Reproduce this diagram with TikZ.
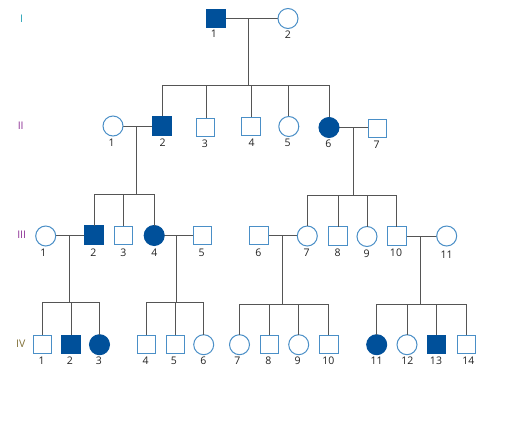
\documentclass[tikz,border=0pt]{standalone}
\usepackage{fontspec}
\setmainfont{Open Sans}
\definecolor{outl}{HTML}{4A8FC7}
\definecolor{affc}{HTML}{00509A}
\definecolor{labc}{HTML}{222222}
\definecolor{linec}{HTML}{555555}
\definecolor{gIc}{HTML}{1FA0B5}
\definecolor{gIIc}{HTML}{8E3196}
\definecolor{gIVc}{HTML}{7F6E35}
\begin{document}
\begin{tikzpicture}[x=1pt,y=-1pt,
  every node/.style={inner sep=0pt,outer sep=0pt},
  male/.style={rectangle,draw=outl,line width=1pt,fill=white,minimum size=18.5pt},
  female/.style={circle,draw=outl,line width=1pt,fill=white,minimum size=20pt},
  aff/.style={fill=affc,draw=affc},
  lab/.style={text=labc,font=\fontsize{10.5}{12}\selectfont,anchor=center},
  gen/.style={font=\fontsize{10.5}{12}\selectfont,anchor=center},
  link/.style={draw=linec,line width=1pt}]
\useasboundingbox (0,0) rectangle (523,421);
\fill[white] (0,0) rectangle (523,421);

% generation labels
\node[gen,text=gIc] (gI) at (21.7,18.5) {I};
\node[gen,text=gIIc] (gII) at (20.7,126) {II};
\node[gen,text=gIIc] (gIII) at (21.7,235) {III};
\node[gen,text=gIVc] (gIV) at (20.7,344) {IV};

% coordinates for marriages and sibships
\coordinate (mI) at (248.3,18.5);
\coordinate (sI) at (248.3,85.7);
\coordinate (mIIa) at (136,126);
\coordinate (sIIa) at (136,194);
\coordinate (mIIb) at (353.3,127.5);
\coordinate (sIIb) at (353.3,195.7);
\coordinate (mIIIa) at (69.3,235);
\coordinate (sIIIa) at (69.3,302.7);
\coordinate (mIIIb) at (176.7,235.5);
\coordinate (sIIIb) at (176.7,302.7);
\coordinate (mIIIc) at (282.7,235.5);
\coordinate (sIIIc) at (282.7,304);
\coordinate (mIIId) at (420.7,236);
\coordinate (sIIId) at (420.7,304);

% lines (drawn first, under nodes)
\begin{scope}[link]
\draw (216,18.5) -- (288,18.5);
\draw (mI) -- (sI);
\draw (162,126) |- (sI);
\draw (206,127.5) |- (sI);
\draw (251,126.5) |- (sI);
\draw (288.8,126.5) |- (sI);
\draw (329,127.5) |- (sI);
\draw (113,126) -- (162,126);
\draw (mIIa) -- (sIIa);
\draw (329,127.5) -- (377.7,127.5);
\draw (mIIb) -- (sIIb);
\draw (45.7,235) -- (94,235);
\draw (154.2,235.5) -- (202.5,235.5);
\draw (259,235.5) -- (307.3,235.5);
\draw (396.8,236) -- (446.7,236);
\draw (mIIIa) -- (sIIIa);
\draw (mIIIb) -- (sIIIb);
\draw (mIIIc) -- (sIIIc);
\draw (mIIId) -- (sIIId);
\end{scope}

% Generation I
\node[male,aff] (I1) at (216,18.5) {};
\node[female] (I2) at (288,18.5) {};
% Generation II
\node[female] (II1) at (113,126) {};
\node[male,aff] (II2) at (162,126) {};
\node[male] (II3) at (205.7,127.5) {};
\node[male] (II4) at (251,126.5) {};
\node[female] (II5) at (288.8,126.5) {};
\node[female,aff] (II6) at (329,127.5) {};
\node[male] (II7) at (377.7,128.5) {};
% Generation III
\node[female] (III1) at (45.7,236) {};
\node[male,aff] (III2) at (94,235) {};
\node[male] (III3) at (123.5,235.5) {};
\node[female,aff] (III4) at (154.2,235.5) {};
\node[male] (III5) at (202.5,235.5) {};
\node[male] (III6) at (259,235.5) {};
\node[female] (III7) at (307.3,236) {};
\node[male] (III8) at (338,236) {};
\node[female] (III9) at (367,236.5) {};
\node[male] (III10) at (396.8,236) {};
\node[female] (III11) at (446.7,236) {};
% Generation IV
\node[male] (IV1) at (42.3,344.7) {};
\node[male,aff] (IV2) at (71,344.7) {};
\node[female,aff] (IV3) at (99.5,344.7) {};
\node[male] (IV4) at (146.7,344.7) {};
\node[male] (IV5) at (175.3,344.7) {};
\node[female] (IV6) at (203.7,344.7) {};
\node[female] (IV7) at (239.5,344.7) {};
\node[male] (IV8) at (269.7,344.7) {};
\node[female] (IV9) at (298.7,344.7) {};
\node[male] (IV10) at (328.8,344.7) {};
\node[female,aff] (IV11) at (376.7,344.7) {};
\node[female] (IV12) at (407,344.7) {};
\node[male,aff] (IV13) at (436.3,344.7) {};
\node[male] (IV14) at (466.3,344.7) {};

% child connectors
\begin{scope}[link]
\draw (III2) |- (sIIa);
\draw (III3) |- (sIIa);
\draw (III4) |- (sIIa);
\draw (III7) |- (sIIb);
\draw (III8) |- (sIIb);
\draw (III9) |- (sIIb);
\draw (III10) |- (sIIb);
\draw (IV1) |- (sIIIa);
\draw (IV2) |- (sIIIa);
\draw (IV3) |- (sIIIa);
\draw (IV4) |- (sIIIb);
\draw (IV5) |- (sIIIb);
\draw (IV6) |- (sIIIb);
\draw (IV7) |- (sIIIc);
\draw (IV8) |- (sIIIc);
\draw (IV9) |- (sIIIc);
\draw (IV10) |- (sIIIc);
\draw (IV11) |- (sIIId);
\draw (IV12) |- (sIIId);
\draw (IV13) |- (sIIId);
\draw (IV14) |- (sIIId);
\end{scope}

% number labels
\node[lab] (lI1) at (214,34) {1};
\node[lab] (lI2) at (288,35) {2};

\node[lab] (lII1) at (111.7,143) {1};
\node[lab] (lII2) at (162.7,143) {2};
\node[lab] (lII3) at (205,144) {3};
\node[lab] (lII4) at (251.7,143) {4};
\node[lab] (lII5) at (287.7,143) {5};
\node[lab] (lII6) at (328.3,144) {6};
\node[lab] (lII7) at (376.7,145) {7};

\node[lab] (lIII1) at (43.3,253) {1};
\node[lab] (lIII2) at (93.3,253) {2};
\node[lab] (lIII3) at (123.3,253) {3};
\node[lab] (lIII4) at (154.3,253) {4};
\node[lab] (lIII5) at (201.7,253) {5};
\node[lab] (lIII6) at (258.3,253) {6};
\node[lab] (lIII7) at (306.7,253) {7};
\node[lab] (lIII8) at (337.7,253) {8};
\node[lab] (lIII9) at (366.7,253.5) {9};
\node[lab] (lIII10) at (396,252.5) {10};
\node[lab] (lIII11) at (446.7,254.5) {11};

\node[lab] (lIV1) at (41.7,361) {1};
\node[lab] (lIV2) at (70,361) {2};
\node[lab] (lIV3) at (99,361) {3};
\node[lab] (lIV4) at (145.7,361) {4};
\node[lab] (lIV5) at (174,361) {5};
\node[lab] (lIV6) at (203.3,361) {6};
\node[lab] (lIV7) at (237.3,361) {7};
\node[lab] (lIV8) at (268.3,361) {8};
\node[lab] (lIV9) at (297.7,360.5) {9};
\node[lab] (lIV10) at (328.3,361) {10};
\node[lab] (lIV11) at (376.7,360.5) {11};
\node[lab] (lIV12) at (407.3,361) {12};
\node[lab] (lIV13) at (436,361) {13};
\node[lab] (lIV14) at (468.3,361) {14};
\end{tikzpicture}
\end{document}
